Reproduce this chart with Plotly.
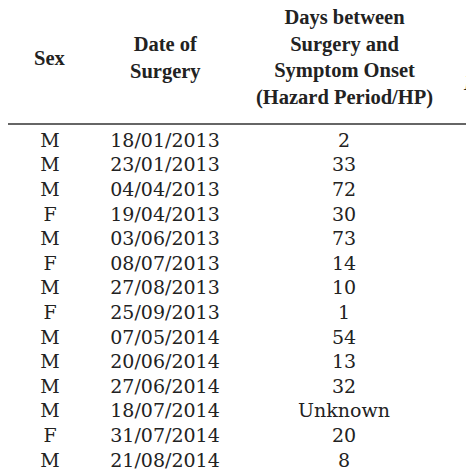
import plotly.graph_objects as go

sex = ["M","M","M","F","M","F","M","F","M","M","M","M","F","M"]
dates = ["18/01/2013","23/01/2013","04/04/2013","19/04/2013","03/06/2013","08/07/2013","27/08/2013",
         "25/09/2013","07/05/2014","20/06/2014","27/06/2014","18/07/2014","31/07/2014","21/08/2014"]
days = ["2","33","72","30","73","14","10","1","54","13","32","Unknown","20","8"]
headers = ["Sex", "Date of<br>Surgery", "Days between<br>Surgery and<br>Symptom Onset<br>(Hazard Period/HP)"]

BODY = "DejaVu Serif"
HEAD = "Liberation Serif"
col_x = [50, 165, 344]
row_y = [142 + 24.6 * i for i in range(len(sex))]

fig = go.Figure()
for cx, vals in zip(col_x, [sex, dates, days]):
    fig.add_trace(go.Scatter(x=[cx] * len(vals), y=row_y, text=vals, mode="text",
                             textfont=dict(family=BODY, size=19, color="#222"),
                             hoverinfo="skip", showlegend=False))
hy = [58, 58, 57]
for cx, h, y in zip(col_x, headers, hy):
    fig.add_annotation(x=cx, y=y, text="<b>" + h + "</b>", showarrow=False, xref="x", yref="y",
                       font=dict(family=HEAD, size=20.5, color="#222"), align="center")
fig.add_annotation(x=480, y=83, text="<b><i>E</i></b>", showarrow=False, xanchor="right",
                   xref="x", yref="y", font=dict(family=HEAD, size=20.5, color="#222"))
fig.add_shape(type="line", x0=0, x1=490, y0=124, y1=124, line=dict(color="#333", width=1.5))
# the page body has an 8px margin; shift the data window to compensate
fig.update_xaxes(range=[8, 482], visible=False)
fig.update_yaxes(range=[482, 8], visible=False)
fig.update_layout(width=474, height=474, margin=dict(l=0, r=0, t=0, b=0),
                  plot_bgcolor="white", paper_bgcolor="white")
fig.write_html("out.html")
